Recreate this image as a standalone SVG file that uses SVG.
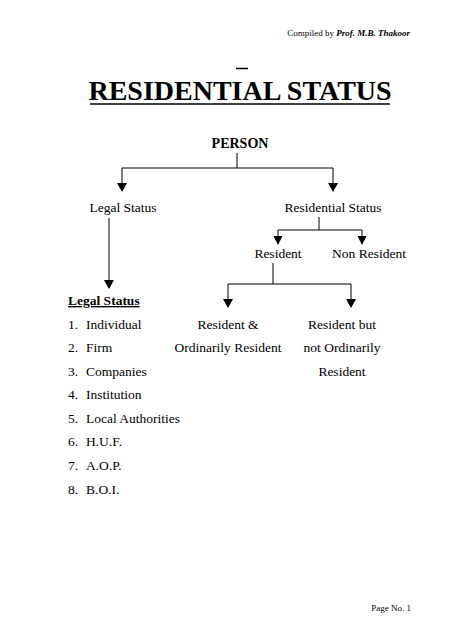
<svg xmlns="http://www.w3.org/2000/svg" width="452" height="640" viewBox="0 0 452 640" font-family="'Liberation Serif', 'Times New Roman', Times, serif">
<style>
text{font-family:'Liberation Serif','Times New Roman',Times,serif;fill:#000}
.t{font-size:13.5px}
.c{text-anchor:middle}
.b{font-weight:bold}
.ln{stroke:#000;stroke-width:1;fill:none}
</style>
<rect width="452" height="640" fill="#fff"/>
<g id="header">
<text x="410" y="36" font-size="9" text-anchor="end">Compiled by <tspan font-weight="bold" font-style="italic">Prof. M.B. Thakoor</tspan></text>
</g>
<g id="title">
<line x1="236" y1="68.5" x2="248" y2="68.5" stroke="#000" stroke-width="1.5"/>
<text x="240" y="100" font-size="28" class="c b">RESIDENTIAL STATUS</text>
<line x1="90" y1="104" x2="390" y2="104" stroke="#000" stroke-width="1.5"/>
</g>
<g id="connectors">
<path class="ln" d="M237,153 V168 M122,168 H333 M122,168 V191 M333,168 V191"/>
<path d="M117,183 L127,183 L122,192 Z M328,183 L338,183 L333,192 Z"/>
<path class="ln" d="M319,217 V230 M278,230 H362 M278,230 V244 M362,230 V244"/>
<path d="M273.5,236 L282.5,236 L278,245 Z M357.5,236 L366.5,236 L362,245 Z"/>
<path class="ln" d="M273,263 V284 M228,284 H351 M228,284 V307 M351,284 V307"/>
<path d="M223,299 L233,299 L228,308 Z M346,299 L356,299 L351,308 Z"/>
<path class="ln" d="M109,218 V288"/>
<path d="M104,280 L114,280 L109,289 Z"/>
</g>
<g id="person"><text x="240" y="148" font-size="14" class="c b">PERSON</text></g>
<g id="legal"><text x="123" y="212" class="t c">Legal Status</text></g>
<g id="residential"><text x="333" y="212" class="t c">Residential Status</text></g>
<g id="resident"><text x="278" y="258" class="t c">Resident</text></g>
<g id="nonresident"><text x="369" y="258" class="t c">Non Resident</text></g>
<g id="ror"><text x="228" y="329" class="t c">Resident &amp;</text><text x="228" y="352" class="t c">Ordinarily Resident</text></g>
<g id="rnor"><text x="342" y="329" class="t c">Resident but</text><text x="342" y="352" class="t c">not Ordinarily</text><text x="342" y="376" class="t c">Resident</text></g>
<g id="legallist">
<text x="68" y="305" class="t b" text-decoration="underline">Legal Status</text>
<text x="68" y="329" class="t">1.</text><text x="86" y="329" class="t">Individual</text>
<text x="68" y="352" class="t">2.</text><text x="86" y="352" class="t">Firm</text>
<text x="68" y="376" class="t">3.</text><text x="86" y="376" class="t">Companies</text>
<text x="68" y="399" class="t">4.</text><text x="86" y="399" class="t">Institution</text>
<text x="68" y="423" class="t">5.</text><text x="86" y="423" class="t">Local Authorities</text>
<text x="68" y="446" class="t">6.</text><text x="86" y="446" class="t">H.U.F.</text>
<text x="68" y="470" class="t">7.</text><text x="86" y="470" class="t">A.O.P.</text>
<text x="68" y="494" class="t">8.</text><text x="86" y="494" class="t">B.O.I.</text>
</g>
<g id="footer"><text x="411" y="611" font-size="9" text-anchor="end">Page No. 1</text></g>
</svg>
